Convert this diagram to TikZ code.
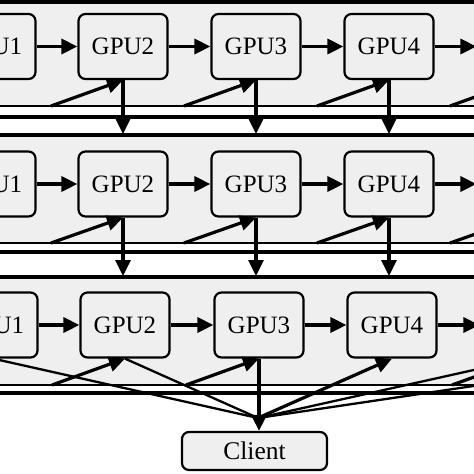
\documentclass[tikz,border=0pt]{standalone}
\usepackage{fontspec}
\setmainfont{Liberation Serif}
\usetikzlibrary{arrows.meta}
\definecolor{panelgray}{HTML}{EFEFEF}
\begin{document}
\begin{tikzpicture}[x=1pt,y=-1pt,
  gpu/.style={draw, line width=2.2pt, rounded corners=7pt, fill=panelgray,
    minimum width=89pt, minimum height=65pt, inner sep=0pt,
    font=\fontsize{25}{28}\selectfont},
  clientbox/.style={draw, line width=2.2pt, rounded corners=7pt, fill=panelgray,
    minimum width=145pt, minimum height=38pt, inner sep=0pt,
    font=\fontsize{25.5}{28}\selectfont},
  flow/.style={line width=3.2pt, -{Triangle[length=16pt,width=15pt]}},
  feed/.style={line width=2.3pt},
  thickline/.style={line width=4.6pt},
  thinline/.style={line width=1.7pt},
  panelfill/.style={fill=panelgray}
]
\useasboundingbox (0,0) rectangle (474,474);
\clip (0,0) rectangle (474,474);

% ---------- panel backgrounds and rules ----------
\fill[panelfill] (-10,2) rectangle (484,106);
\fill[panelfill] (-10,135) rectangle (484,243);
\fill[panelfill] (-10,277) rectangle (484,385);
\foreach \t/\b/\s in {2/117/106, 135/252/243, 277/393/385}{
  \draw[thickline] (-10,\t) -- (484,\t);
  \draw[thickline] (-10,\b) -- (484,\b);
  \draw[thinline] (-10,\s) -- (484,\s);
}

% ---------- GPU nodes ----------
\foreach \i/\x in {1/-9,2/123,3/256,4/389,5/522}{
  \node[gpu] (g1\i) at (\x,46.5) {GPU\i};
  \node[gpu] (g2\i) at (\x,184) {GPU\i};
}
\foreach \i/\x in {1/-7,2/125,3/259,4/392,5/525,6/658}{
  \node[gpu] (g3\i) at (\x,325) {GPU\i};
}
\node[clientbox] (client) at (254.5,451) {Client};

% ---------- horizontal pipeline arrows ----------
\foreach \p in {1,2,3}{
  \draw[flow] (g\p1) -- (g\p2);
  \draw[flow] (g\p2) -- (g\p3);
  \draw[flow] (g\p3) -- (g\p4);
  \draw[flow] (g\p4) -- (g\p5);
}

% ---------- diagonal feed arrows from the thin rule ----------
\foreach \i/\x in {2/123,3/256,4/389,5/522}{
  \coordinate (d1\i) at (\x-72,106);
  \draw[flow] (d1\i) -- (g1\i.south);
  \coordinate (d2\i) at (\x-72,243);
  \draw[flow] (d2\i) -- (g2\i.south);
}
\foreach \i/\x in {2/125,3/259,5/525}{
  \coordinate (d3\i) at (\x-73,385);
  \draw[flow] (d3\i) -- (g3\i.south);
}

% ---------- vertical arrows between stages ----------
\foreach \i in {2,3,4}{
  \coordinate (v2\i) at (g1\i.south |- 0,134);
  \draw[flow] (g1\i.south) -- (v2\i);
  \coordinate (v3\i) at (g2\i.south |- 0,276);
  \draw[flow] (g2\i.south) -- (v3\i);
}

% ---------- client connections ----------
\coordinate (conv) at (258,418);
\draw[flow] (g33.south) -- (g33.south |- client.north);
\draw[feed] (g31.south) -- (conv);
\draw[feed] (g32.south) -- (conv);
\draw[feed] (g35.south) -- (conv);
\draw[feed] (g36.south) -- (conv);
\draw[flow] (conv) -- (g34.south);
\end{tikzpicture}
\end{document}
